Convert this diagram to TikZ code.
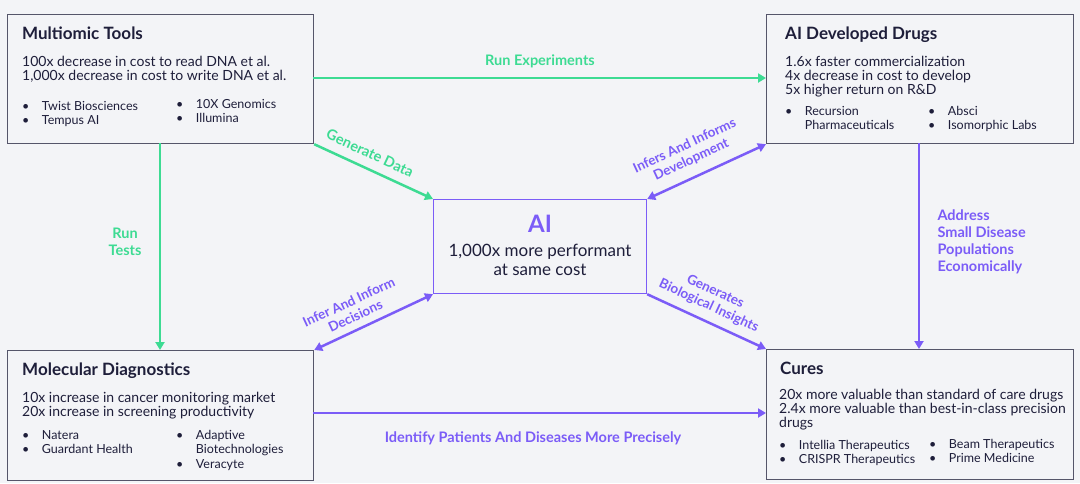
\documentclass[tikz,border=0pt]{standalone}
\usepackage{fontspec}
\setmainfont{Lato}
\usetikzlibrary{arrows.meta}
\definecolor{bg}{HTML}{F3F4F7}
\definecolor{gr}{HTML}{3DDB93}
\definecolor{pu}{HTML}{7B5CF7}
\definecolor{ink}{HTML}{1E1E3A}
\definecolor{bx}{HTML}{55556A}
\begin{document}
\begin{tikzpicture}[x=1pt,y=-1pt,
  box/.style={draw=bx,line width=1.2pt,fill=bg,inner sep=0pt},
  ttl/.style={anchor=north west,font=\fontsize{17}{18}\selectfont\bfseries,text=ink,inner sep=0pt},
  body/.style={anchor=north west,font=\fontsize{14}{14}\selectfont,text=ink,inner sep=0pt,align=left},
  bul/.style={anchor=north west,font=\fontsize{12.5}{14.5}\selectfont,text=ink,inner sep=0pt,align=left},
  ga/.style={draw=gr,line width=2.5pt,-{Triangle[length=8pt,width=9pt]}},
  pa/.style={draw=pu,line width=2.5pt,-{Triangle[length=8pt,width=9pt]}},
  pd/.style={draw=pu,line width=2.5pt,{Triangle[length=8pt,width=9pt]}-{Triangle[length=8pt,width=9pt]}},
  gl/.style={text=gr,font=\fontsize{14.5}{17}\selectfont\bfseries,align=center},
  pl/.style={text=pu,font=\fontsize{14.5}{17}\selectfont\bfseries,align=center},
  rl/.style={text=pu,font=\fontsize{13.5}{15.5}\selectfont\bfseries,align=center,inner sep=0pt}]
\fill[bg] (0,0) rectangle (1080,483);
\node[box,minimum width=306pt,minimum height=129pt,anchor=north west] (mt) at (7,14) {};
\node[box,minimum width=307pt,minimum height=129pt,anchor=north west] (ad) at (766,14) {};
\node[box,minimum width=306pt,minimum height=130pt,anchor=north west] (md) at (7,350) {};
\node[box,minimum width=307pt,minimum height=130pt,anchor=north west] (cu) at (766,349) {};
\node[draw=pu,line width=1.2pt,fill=bg,minimum width=213pt,minimum height=94pt,anchor=north west] (ai) at (433,199) {};
\node[text=pu,font=\fontsize{24}{26}\selectfont\bfseries] (ait) at (540,224) {AI};
\node[text=ink,font=\fontsize{17}{19}\selectfont,align=center] (aib) at (540,260) {1,000x more performant\\at same cost};
% Multiomic
\node[ttl] (t1) at (22,27) {Multiomic Tools};
\node[body] (b1) at (22,56) {100x decrease in cost to read DNA et al.\\1,000x decrease in cost to write DNA et al.};
\node[bul] (l1a) at (22,101) {•\quad Twist Biosciences\\•\quad Tempus AI};
\node[bul] (l1b) at (176,99) {•\quad 10X Genomics\\•\quad Illumina};
% AI developed
\node[ttl] (t2) at (785,27) {AI Developed Drugs};
\node[body] (b2) at (785,56) {1.6x faster commercialization\\4x decrease in cost to develop\\5x higher return on R\&D};
\node[bul] (l2a) at (785,106) {•\quad Recursion\\\phantom{•}\quad Pharmaceuticals};
\node[bul] (l2b) at (928,106) {•\quad Absci\\•\quad Isomorphic Labs};
% Molecular
\node[ttl] (t3) at (22,363) {Molecular Diagnostics};
\node[body] (b3) at (22,392) {10x increase in cancer monitoring market\\20x increase in screening productivity};
\node[bul] (l3a) at (22,430) {•\quad Natera\\•\quad Guardant Health};
\node[bul] (l3b) at (176,430) {•\quad Adaptive\\\phantom{•}\quad Biotechnologies\\•\quad Veracyte};
% Cures
\node[ttl] (t4) at (780,362) {Cures};
\node[body] (b4) at (779,389) {20x more valuable than standard of care drugs\\2.4x more valuable than best-in-class precision\\drugs};
\node[bul] (l4a) at (779,440) {•\quad Intellia Therapeutics\\•\quad CRISPR Therapeutics};
\node[bul] (l4b) at (929,439) {•\quad Beam Therapeutics\\•\quad Prime Medicine};
% arrows
\coordinate (p1) at (313,78); \coordinate (p2) at (766,78);
\draw[ga] (p1) -- (p2);
\node[gl] (lre) at (540,61) {Run Experiments};
\coordinate (p3) at (160,143); \coordinate (p4) at (160,350);
\draw[ga] (p3) -- (p4);
\node[gl] (lrt) at (125,242) {Run\\Tests};
\draw[ga] (mt.south east) -- (ai.north west);
\node[gl,rotate=-25] (lgd) at (370,153) {Generate Data};
\draw[pd] (ai.north east) -- (ad.south west);
\node[rl,rotate=25] (lid) at (688,153) {Infers And Informs\\Development};
\draw[pd] (md.north east) -- (ai.south west);
\node[rl,rotate=25] (lii) at (352,309) {Infer And Inform\\Decisions};
\draw[pa] (ai.south east) -- (cu.north west);
\node[rl,rotate=-25] (lgb) at (712,299) {Generates\\Biological Insights};
\coordinate (p5) at (919,143); \coordinate (p6) at (919,349);
\draw[pa] (p5) -- (p6);
\node[pl,align=left,anchor=west,font=\fontsize{14.5}{17}\selectfont\bfseries] (lad) at (934,242) {Address\\Small Disease\\Populations\\Economically};
\coordinate (p7) at (313,413); \coordinate (p8) at (766,413);
\draw[pa] (p7) -- (p8);
\node[pl] (lip) at (533,438) {Identify Patients And Diseases More Precisely};
\end{tikzpicture}
\end{document}
